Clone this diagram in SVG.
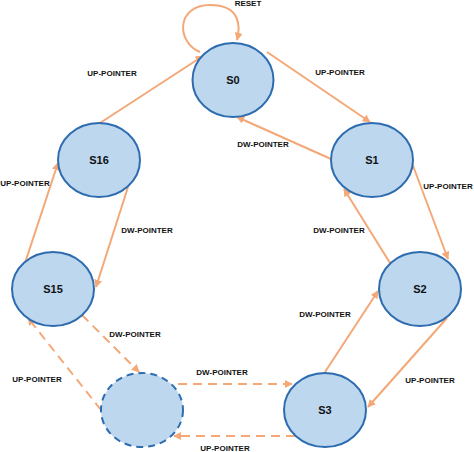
<svg xmlns="http://www.w3.org/2000/svg" width="474" height="452" viewBox="0 0 474 452">
<style>
.node{fill:#BDD7EE;stroke:#2E6CB0;stroke-width:2}
.dnode{fill:#BDD7EE;stroke:#2E6CB0;stroke-width:2;stroke-dasharray:7,5}
.nl{font-family:"Liberation Sans",Arial,sans-serif;font-weight:bold;font-size:11px;fill:#111;text-anchor:middle}
.el{font-family:"Liberation Sans",Arial,sans-serif;font-weight:bold;font-size:8px;fill:#111;text-anchor:middle}
.e{fill:none;stroke:#F4A877;stroke-width:2;marker-end:url(#ah)}
.d{stroke-dasharray:9,6}
</style>
<defs>
<marker id="ah" viewBox="0 0 10 10" refX="9" refY="5" markerWidth="4" markerHeight="4" orient="auto" markerUnits="strokeWidth">
<path d="M0,0 L10,5 L0,10 z" fill="#F4A877"/>
</marker>
</defs>
<rect width="474" height="452" fill="#fff"/>
<g id="connectors">
<path class="e" d="M200,52 C176,42 176,5 210,5 C242,5 240,28 237,40"/>
<line class="e" x1="100" y1="123" x2="203" y2="56"/>
<line class="e" x1="267" y1="52" x2="370" y2="122"/>
<line class="e" x1="331" y1="159" x2="237" y2="117"/>
<line class="e" x1="412" y1="163" x2="448" y2="259"/>
<line class="e" x1="390" y1="263" x2="344" y2="189"/>
<line class="e" x1="325" y1="372" x2="378" y2="291"/>
<line class="e" x1="447" y1="318" x2="368" y2="407"/>
<line class="e" x1="128" y1="187" x2="96" y2="287"/>
<line class="e" x1="25" y1="263" x2="58" y2="163"/>
<line class="e d" x1="82" y1="315" x2="139" y2="372"/>
<line class="e d" x1="101" y1="410" x2="28" y2="318"/>
<line class="e d" x1="178" y1="384" x2="292" y2="384"/>
<line class="e d" x1="295" y1="436" x2="174" y2="436"/>
</g>
<g id="edge-labels">
<text class="el" x="248" y="6">RESET</text>
<text class="el" x="112" y="76">UP-POINTER</text>
<text class="el" x="340" y="75">UP-POINTER</text>
<text class="el" x="263" y="147">DW-POINTER</text>
<text class="el" x="448" y="189">UP-POINTER</text>
<text class="el" x="339" y="233">DW-POINTER</text>
<text class="el" x="325" y="317">DW-POINTER</text>
<text class="el" x="430" y="383">UP-POINTER</text>
<text class="el" x="147" y="233">DW-POINTER</text>
<text class="el" x="25" y="186">UP-POINTER</text>
<text class="el" x="135" y="337">DW-POINTER</text>
<text class="el" x="37" y="382">UP-POINTER</text>
<text class="el" x="222" y="375">DW-POINTER</text>
<text class="el" x="225" y="451">UP-POINTER</text>
</g>
<g id="S0"><ellipse class="node" cx="233" cy="80" rx="40.5" ry="37"/><text class="nl" x="233" y="84">S0</text></g>
<g id="S1"><ellipse class="node" cx="372" cy="160" rx="41" ry="37"/><text class="nl" x="372" y="164">S1</text></g>
<g id="S2"><ellipse class="node" cx="420" cy="289" rx="41" ry="37"/><text class="nl" x="420" y="293">S2</text></g>
<g id="S3"><ellipse class="node" cx="325" cy="410" rx="41" ry="37"/><text class="nl" x="325" y="414">S3</text></g>
<g id="S16"><ellipse class="node" cx="99" cy="160" rx="41" ry="37"/><text class="nl" x="99" y="164">S16</text></g>
<g id="S15"><ellipse class="node" cx="53" cy="289" rx="41" ry="37"/><text class="nl" x="53" y="293">S15</text></g>
<g id="Sx"><ellipse class="dnode" cx="142" cy="410" rx="41" ry="37"/></g>
</svg>
